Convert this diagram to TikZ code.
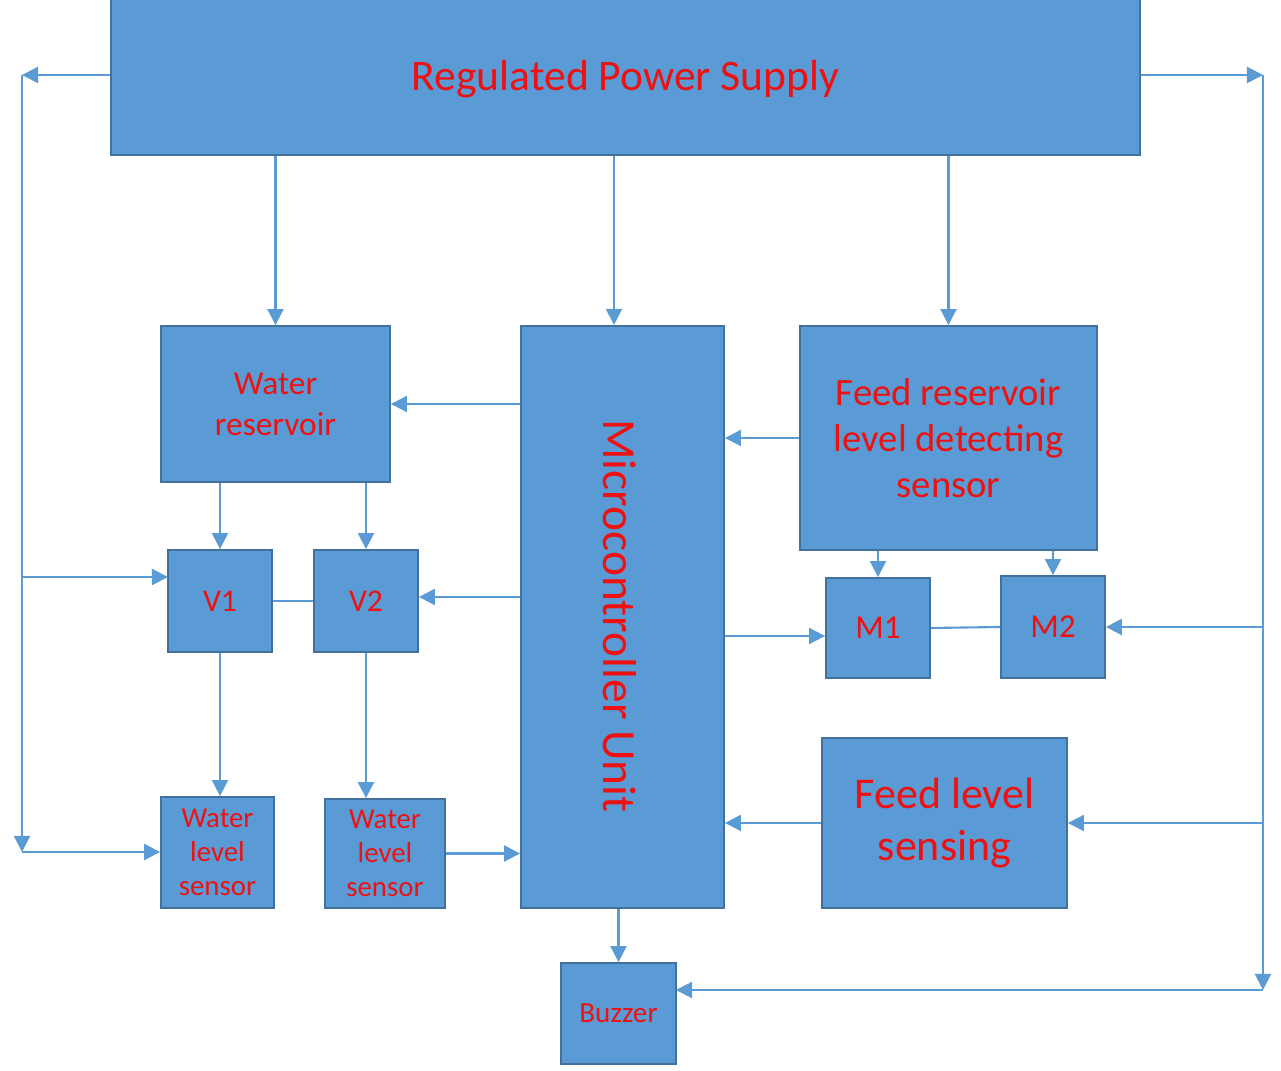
\documentclass[tikz,border=0pt]{standalone}
\usepackage{fontspec}
\setmainfont{Carlito}
\usepackage{tikz}
\usetikzlibrary{arrows.meta, positioning, calc}

\definecolor{boxfill}{HTML}{5B9BD5}
\definecolor{boxline}{HTML}{41719C}
\definecolor{txtred}{HTML}{EE1111}

\begin{document}
\begin{tikzpicture}[x=0.01cm, y=-0.01cm,
    blk/.style={draw=boxline, fill=boxfill, text=txtred, align=center, inner sep=0pt, line width=0.5pt},
    arr/.style={-{Triangle[length=1.6mm,width=1.6mm]}, boxfill, line width=0.6pt},
    lnk/.style={boxfill, line width=0.6pt}]
    \useasboundingbox (0,0) rectangle (1281,1071);

    % blocks
    \node[blk, minimum width=10.29cm, minimum height=1.6cm, text depth=0pt, font=\fontsize{12.4}{14}\selectfont] (psu) at (625.5,75) {Regulated Power Supply};
    \node[blk, minimum width=2.29cm, minimum height=1.56cm, font=\fontsize{9.5}{11.7}\selectfont] (wres) at (275.5,404) {Water\\reservoir};
    \node[blk, minimum width=2.03cm, minimum height=5.82cm] (mcu) at (622.5,617) {};
    \node[text=txtred, rotate=-90, font=\fontsize{13.5}{15}\selectfont] (mcutxt) at (620,616) {Microcontroller Unit};
    \node[blk, minimum width=2.97cm, minimum height=2.24cm, font=\fontsize{11}{13.1}\selectfont] (fsens) at (948.5,438) {Feed reservoir\\level detecting\\sensor};
    \node[blk, minimum width=1.04cm, minimum height=1.02cm, font=\fontsize{9}{11}\selectfont] (v1) at (220,601) {V1};
    \node[blk, minimum width=1.04cm, minimum height=1.02cm, font=\fontsize{9}{11}\selectfont] (v2) at (366,601) {V2};
    \node[blk, minimum width=1.04cm, minimum height=1.0cm, font=\fontsize{9.5}{11}\selectfont] (m1) at (878,628) {M1};
    \node[blk, minimum width=1.04cm, minimum height=1.02cm, font=\fontsize{9.5}{11}\selectfont] (m2) at (1053,627) {M2};
    \node[blk, minimum width=1.13cm, minimum height=1.11cm, font=\fontsize{8.2}{9.7}\selectfont] (wls1) at (217.5,852.5) {Water\\level\\sensor};
    \node[blk, minimum width=1.20cm, minimum height=1.09cm, font=\fontsize{8.2}{9.7}\selectfont] (wls2) at (385,853.5) {Water\\level\\sensor};
    \node[blk, minimum width=2.45cm, minimum height=1.70cm, font=\fontsize{12.5}{14.8}\selectfont] (fls) at (944.5,823) {Feed level\\sensing};
    \node[blk, minimum width=1.15cm, minimum height=1.01cm, font=\fontsize{8.3}{9}\selectfont] (buzz) at (618.5,1013.5) {Buzzer};

    % supply rails
    \coordinate (lt) at (22,75);
    \coordinate (lb) at (22,852);
    \coordinate (rt) at (1263,75);
    \coordinate (rb) at (1263,990);
    \coordinate (v1in) at (168,577);
    \coordinate (buzin) at (676,990);

    \draw[arr] (psu.west |- lt) -- (lt);
    \draw[arr] (lt) -- (lb);
    \draw[arr] (lb) -- (wls1.west |- lb);
    \draw[arr] (lt |- v1in) -- (v1in);
    \draw[arr] (psu.east |- rt) -- (rt);
    \draw[arr] (rt) -- (rb);
    \draw[arr] (rb) -- (buzin);
    \draw[arr] (rt |- m2.east) -- (m2.east);
    \draw[arr] (rt |- fls.east) -- (fls.east);

    % supply to blocks
    \draw[arr] (psu.south -| wres) -- (wres.north);
    \draw[arr] (psu.south -| 614,0) -- (mcu.north -| 614,0);
    \draw[arr] (psu.south -| fsens) -- (fsens.north);

    % signal paths
    \draw[arr] (mcu.west |- wres) -- (wres.east);
    \draw[arr] (fsens.west) -- (fsens.west -| mcu.east);
    \draw[arr] (wres.south -| v1) -- (v1.north);
    \draw[arr] (wres.south -| v2) -- (v2.north);
    \draw[lnk] (v1.east) -- (v2.west);
    \draw[arr] (mcu.west |- 0,597) -- (v2.east |- 0,597);
    \draw[arr] (fsens.south -| m1) -- (m1.north);
    \draw[arr] (fsens.south -| m2) -- (m2.north);
    \draw[arr] (mcu.east |- 0,636) -- (m1.west |- 0,636);
    \draw[lnk] (m1.east) -- (m2.west);
    \draw[arr] (v1.south) -- (wls1.north -| v1);
    \draw[arr] (v2.south) -- (wls2.north -| v2);
    \draw[arr] (wls2.east) -- (wls2.east -| mcu.west);
    \draw[arr] (fls.west) -- (fls.west -| mcu.east);
    \draw[arr] (mcu.south -| buzz) -- (buzz.north);
\end{tikzpicture}
\end{document}
